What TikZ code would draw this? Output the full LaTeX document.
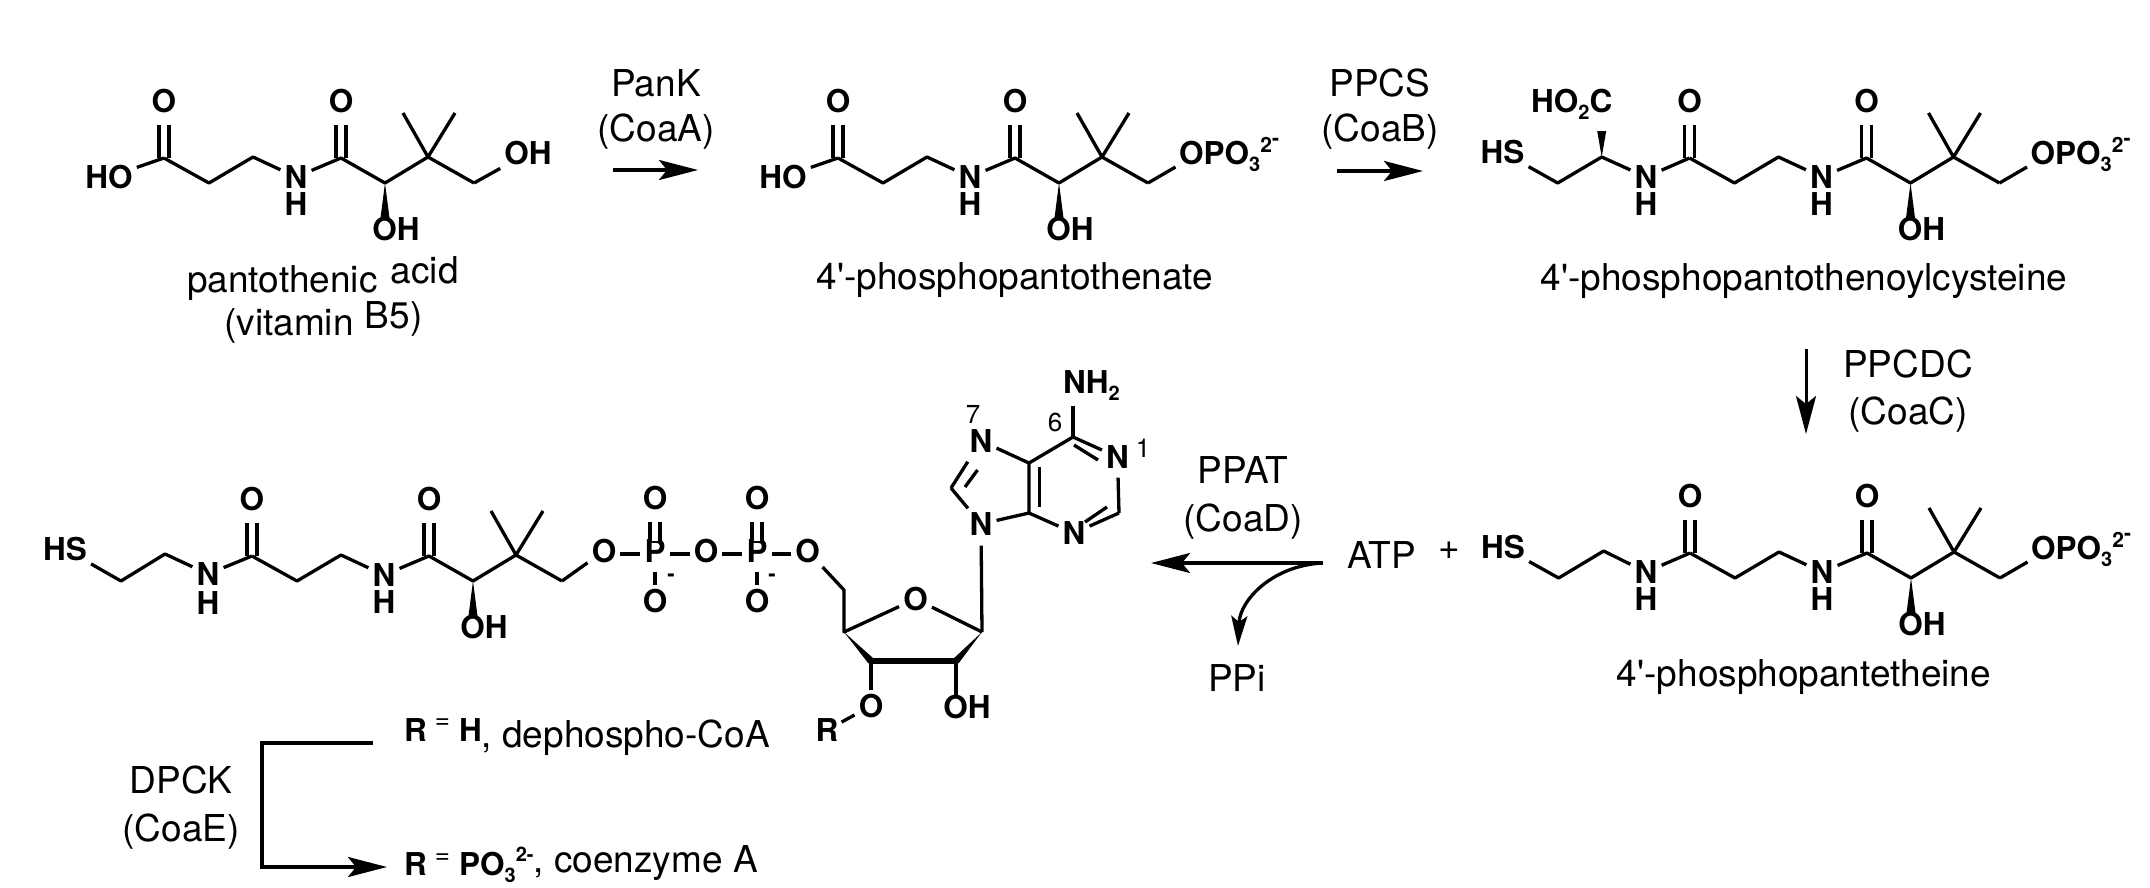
\documentclass[tikz,border=0pt]{standalone}
\usepackage{fontspec}
\usetikzlibrary{arrows.meta}
\newfontfamily\hv{TeX Gyre Heros}
\newcommand{\atomf}{\hv\bfseries\fontsize{31.5}{32}\selectfont}
\newcommand{\labf}{\hv\fontsize{37}{37}\selectfont}
\newcommand{\lowthree}[1]{\raisebox{-7pt}{\fontsize{20}{20}\selectfont #1}}
\newcommand{\hightwo}{\raisebox{12pt}{\fontsize{21}{21}\selectfont 2}\raisebox{19pt}{\fontsize{21}{21}\selectfont -}}
\tikzset{
  bond/.style={line width=3.3pt,line join=round},
  dbl/.style={bond,double,double distance=6.7pt,shorten >=7.5pt},
  atom/.style={font=\atomf,inner sep=4pt},
  atomtext/.style={font=\atomf,inner sep=0pt,anchor=base west},
  tag/.style={font=\labf,inner sep=0pt},
  num/.style={font=\hv\fontsize{26}{26}\selectfont,inner sep=0pt},
  chg/.style={font=\atomf\fontsize{22}{22}\selectfont,inner sep=0pt},
  rxn/.style={line width=3.5pt,-{Stealth[length=39pt,width=20pt,inset=8pt]}},
  rxnthin/.style={line width=3pt,-{Stealth[length=38pt,width=20pt,inset=8pt]}},
  rxncurve/.style={line width=3.3pt,-{Stealth[length=30pt,width=16pt,inset=6pt]}},
}
\newcommand{\pantfrag}[3]{%
\begin{scope}[shift={(#2,#3)},name prefix=#1-]
  \coordinate (ca) at (164,158);
  \coordinate (c2) at (209,183);
  \coordinate (c3) at (253,157);
  \coordinate (cb) at (341,158);
  \coordinate (ch) at (385,183);
  \coordinate (cq) at (428,157);
  \coordinate (me1) at (403,113);
  \coordinate (me2) at (455,113);
  \coordinate (c6) at (474,183);
  \node[atom] (oa) at (164,101) {O};
  \node[atom] (ob) at (341,101) {O};
  \node[atom] (n) at (296,177) {N};
  \node[atom] (h) at (296,204) {H};
  \node[atom] (oh) at (396,229) {OH};
  \draw[dbl] (ca) -- (oa);
  \draw[dbl] (cb) -- (ob);
  \draw[bond] (ca) -- (c2) -- (c3) -- (n);
  \draw[bond] (n) -- (cb) -- (ch) -- (cq) -- (c6);
  \draw[bond] (me1) -- (cq) -- (me2);
  \fill (ch) -- ([shift={(-4.5pt,-35pt)}]ch) -- ([shift={(4.5pt,-35pt)}]ch) -- cycle;
\end{scope}}
\begin{document}
\begin{tikzpicture}[x=1pt,y=-1pt]
\useasboundingbox (0,0) rectangle (2150,887);
\fill[white] (0,0) rectangle (2150,887);

% --- pantothenic acid
\pantfrag{ma}{0}{0}
\node[atom] (ma-ho) at (109,177) {HO};
\node[atom] (ma-oht) at (528,153) {OH};
\draw[bond] (ma-ho) -- (ma-ca);
\draw[bond] (ma-c6) -- (ma-oht);
\node[tag,anchor=base west] (ma-l1) at (187,292) {pantothenic\hspace{3pt} \raisebox{9pt}{acid}};
\node[tag,anchor=base west] (ma-l2) at (224,335) {(vitamin\hspace{1pt} \raisebox{7pt}{B5)}};

% --- PanK
\coordinate (a1s) at (613,170);
\coordinate (a1e) at (698,170);
\draw[rxn] (a1s) -- (a1e);
\node[tag] (pank) at (656,83) {PanK};
\node[tag] (coaa) at (656,132) {(CoaA)};

% --- 4'-phosphopantothenate
\pantfrag{mb}{674}{0}
\node[atom] (mb-ho) at (783,177) {HO};
\node[atomtext] (mb-opo) at (1179,164) {OPO\lowthree{3}\hightwo};
\coordinate (mb-e) at (1175.5,167);
\draw[bond] (mb-ho) -- (mb-ca);
\draw[bond] (mb-c6) -- (mb-e);
\node[tag] (mb-l) at (1015,280) {4'-phosphopantothenate};

% --- PPCS
\coordinate (a2s) at (1337,171);
\coordinate (a2e) at (1423,171);
\draw[rxn] (a2s) -- (a2e);
\node[tag] (ppcs) at (1380,83) {PPCS};
\node[tag] (coab) at (1380,132) {(CoaB)};

% --- 4'-phosphopantothenoylcysteine
\pantfrag{mc}{1525.5}{0}
\node[atom] (mc-hs) at (1502.5,152) {HS};
\coordinate (mc-c1) at (1557.7,183);
\coordinate (mc-c2) at (1601.7,157);
\node[atomtext] (mc-co2h) at (1531,112) {HO\lowthree{2}C};
\node[atom] (mc-n) at (1646,177) {N};
\node[atom] (mc-h) at (1646,204) {H};
\draw[bond] (mc-hs) -- (mc-c1) -- (mc-c2) -- (mc-n) -- (mc-ca);
\fill (mc-c2) -- ([shift={(-4.5pt,26pt)}]mc-c2) -- ([shift={(4.5pt,26pt)}]mc-c2) -- cycle;
\node[atomtext] (mc-opo) at (2030.5,164) {OPO\lowthree{3}\hightwo};
\coordinate (mc-e) at (2027,167);
\draw[bond] (mc-c6) -- (mc-e);
\node[tag] (mc-l) at (1804,281) {4'-phosphopantothenoylcysteine};

% --- PPCDC
\coordinate (a3s) at (1806,349);
\coordinate (a3e) at (1806,434);
\draw[rxnthin] (a3s) -- (a3e);
\node[tag] (ppcdc) at (1908,364) {PPCDC};
\node[tag] (coac) at (1908,415) {(CoaC)};

% --- 4'-phosphopantetheine
\pantfrag{md}{1526}{395}
\node[atom] (md-hs) at (1503,547) {HS};
\coordinate (md-c1) at (1558.6,578);
\coordinate (md-c2) at (1603.6,551);
\node[atom] (md-n) at (1646,572) {N};
\node[atom] (md-h) at (1646,599) {H};
\draw[bond] (md-hs) -- (md-c1) -- (md-c2) -- (md-n) -- (md-ca);
\node[atomtext] (md-opo) at (2031,559) {OPO\lowthree{3}\hightwo};
\coordinate (md-e) at (2027.5,562);
\draw[bond] (md-c6) -- (md-e);
\node[tag] (md-l) at (1804,677) {4'-phosphopantetheine};
\node[tag] (atp) at (1382,555) {ATP};
\node[tag] (plus) at (1449,551) {+};

% --- PPAT
\coordinate (a4s) at (1323,563);
\coordinate (a4e) at (1151,563);
\coordinate (a5s) at (1322,563);
\coordinate (a5e) at (1238,646);
\draw[rxn] (a4s) -- (a4e);
\draw[rxncurve] (a5s) .. controls (1272,566) and (1240,600) .. (a5e);
\node[tag] (ppat) at (1243,470) {PPAT};
\node[tag] (coad) at (1243,522) {(CoaD)};
\node[tag] (ppi) at (1237,678) {PPi};

% --- dephospho-CoA tail
\pantfrag{me}{88}{398}
\node[atom] (me-hs) at (65,549) {HS};
\coordinate (me-c1) at (121,581);
\coordinate (me-c2) at (165,554);
\node[atom] (me-n) at (208,574) {N};
\node[atom] (me-h) at (208,603) {H};
\draw[bond] (me-hs) -- (me-c1) -- (me-c2) -- (me-n) -- (me-ca);

% phosphates
\node[atom] (o1) at (604,551) {O};
\node[atom] (p1) at (655,551) {P};
\node[atom] (o2) at (706,551) {O};
\node[atom] (p2) at (757,551) {P};
\node[atom] (o3) at (807.6,551) {O};
\node[atom] (p1t) at (655,498) {O};
\node[atom] (p2t) at (757,498) {O};
\node[atom] (p1b) at (655,601) {O};
\node[atom] (p2b) at (757,601) {O};
\node[chg] (c1m) at (671,578) {-};
\node[chg] (c2m) at (772,578) {-};
\draw[bond] (me-c6) -- (o1);
\foreach \a/\b in {o1/p1,p1/o2,o2/p2,p2/o3}
  \draw[bond] ([yshift=-3pt]\a.east) -- ([yshift=-3pt]\b.west);
\draw[dbl,shorten <=10pt] (p1.center) -- (p1t);
\draw[dbl,shorten <=10pt] (p2.center) -- (p2t);
\draw[bond,shorten <=5.5pt] (p1) -- (p1b);
\draw[bond,shorten <=5.5pt] (p2) -- (p2b);

% ribose
\coordinate (c5r) at (844,590);
\coordinate (c4r) at (844,632);
\coordinate (c3r) at (871,661);
\coordinate (c2r) at (956,661);
\coordinate (c1r) at (982,632);
\node[atom] (o4r) at (915.5,599) {O};
\node[atom] (o3r) at (871,706) {O};
\node[atom,inner sep=0pt] (oh2r) at (967,707) {OH};
\node[atom,inner sep=3pt] (rr) at (827,730) {R};
\draw[bond] (o3) -- (c5r) -- (c4r) -- (o4r) -- (c1r);
\fill (c4r) -- (873.6,658.6) -- (868.4,663.4) -- cycle;
\fill (c1r) -- (958.6,663.3) -- (953.4,658.7) -- cycle;
\draw[line width=6pt,line cap=round] (c3r) -- (c2r);
\draw[bond] (c3r) -- (o3r);
\draw[bond] (c2r) -- (956,695);
\draw[bond] (o3r) -- (rr);

% adenine
\node[atom] (n9) at (981,524) {N};
\node[atom] (n7) at (981,441) {N};
\node[atom] (n1) at (1117.5,457) {N};
\node[atom] (n3) at (1074,533) {N};
\node[atomtext] (nh2) at (1063,393.5) {NH\lowthree{2}};
\coordinate (nhe) at (1073,406);
\coordinate (c4a) at (1029,513);
\coordinate (c5a) at (1029,463);
\coordinate (c6a) at (1073,437);
\coordinate (c2a) at (1119,513);
\coordinate (c8a) at (951,488);
\coordinate (i1a) at (1039.5,467);
\coordinate (i1b) at (1039.5,507);
\coordinate (i2a) at (1074,445);
\coordinate (i2b) at (1098,460);
\coordinate (i3a) at (1085,522);
\coordinate (i3b) at (1107,507);
\coordinate (i4a) at (977.5,470);
\coordinate (i4b) at (965,487);
\draw[bond,shorten >=6pt] (c1r) -- (n9);
\draw[bond] (n9) -- (c4a) -- (c5a) -- (c6a) -- (n1);
\draw[bond] (c4a) -- (n3);
\draw[bond] (n3) -- (c2a);
\draw[bond,shorten >=5pt] (c2a) -- (n1);
\draw[bond] (c5a) -- (n7);
\draw[bond,shorten <=6pt] (n7) -- (c8a);
\draw[bond] (c8a) -- (n9);
\draw[bond] (c6a) -- (nhe);
\foreach \a/\b in {i1a/i1b,i2a/i2b,i3a/i3b,i4a/i4b} \draw[bond] (\a) -- (\b);
\node[num] (n7l) at (973,414) {7};
\node[num] (n6l) at (1055,422) {6};
\node[num] (n1l) at (1143,448) {1};

% --- DPCK
\coordinate (b1) at (373,743);
\coordinate (b2) at (262,743);
\coordinate (b3) at (262,867);
\coordinate (b4) at (387,867);
\draw[rxn,line join=miter] (b1) -- (b2) -- (b3) -- (b4);
\node[tag] (dpck) at (181,780) {DPCK};
\node[tag] (coae) at (181,832) {(CoaE)};
\node[tag,anchor=base west] (rh) at (404,747) {\raisebox{6pt}{\atomf R}\hspace{8pt}\raisebox{18.5pt}{\fontsize{26}{26}\selectfont =}\hspace{9pt}\raisebox{6pt}{\atomf H},\ dephospho-CoA};
\node[tag,anchor=base west] (rp) at (404,872) {\raisebox{-3pt}{\atomf R}\hspace{8pt}\raisebox{9pt}{\fontsize{26}{26}\selectfont =}\hspace{9pt}\raisebox{-3pt}{\atomf PO\lowthree{3}}\raisebox{11pt}{\atomf\fontsize{20}{20}\selectfont 2-},\ coenzyme A};
\end{tikzpicture}
\end{document}
